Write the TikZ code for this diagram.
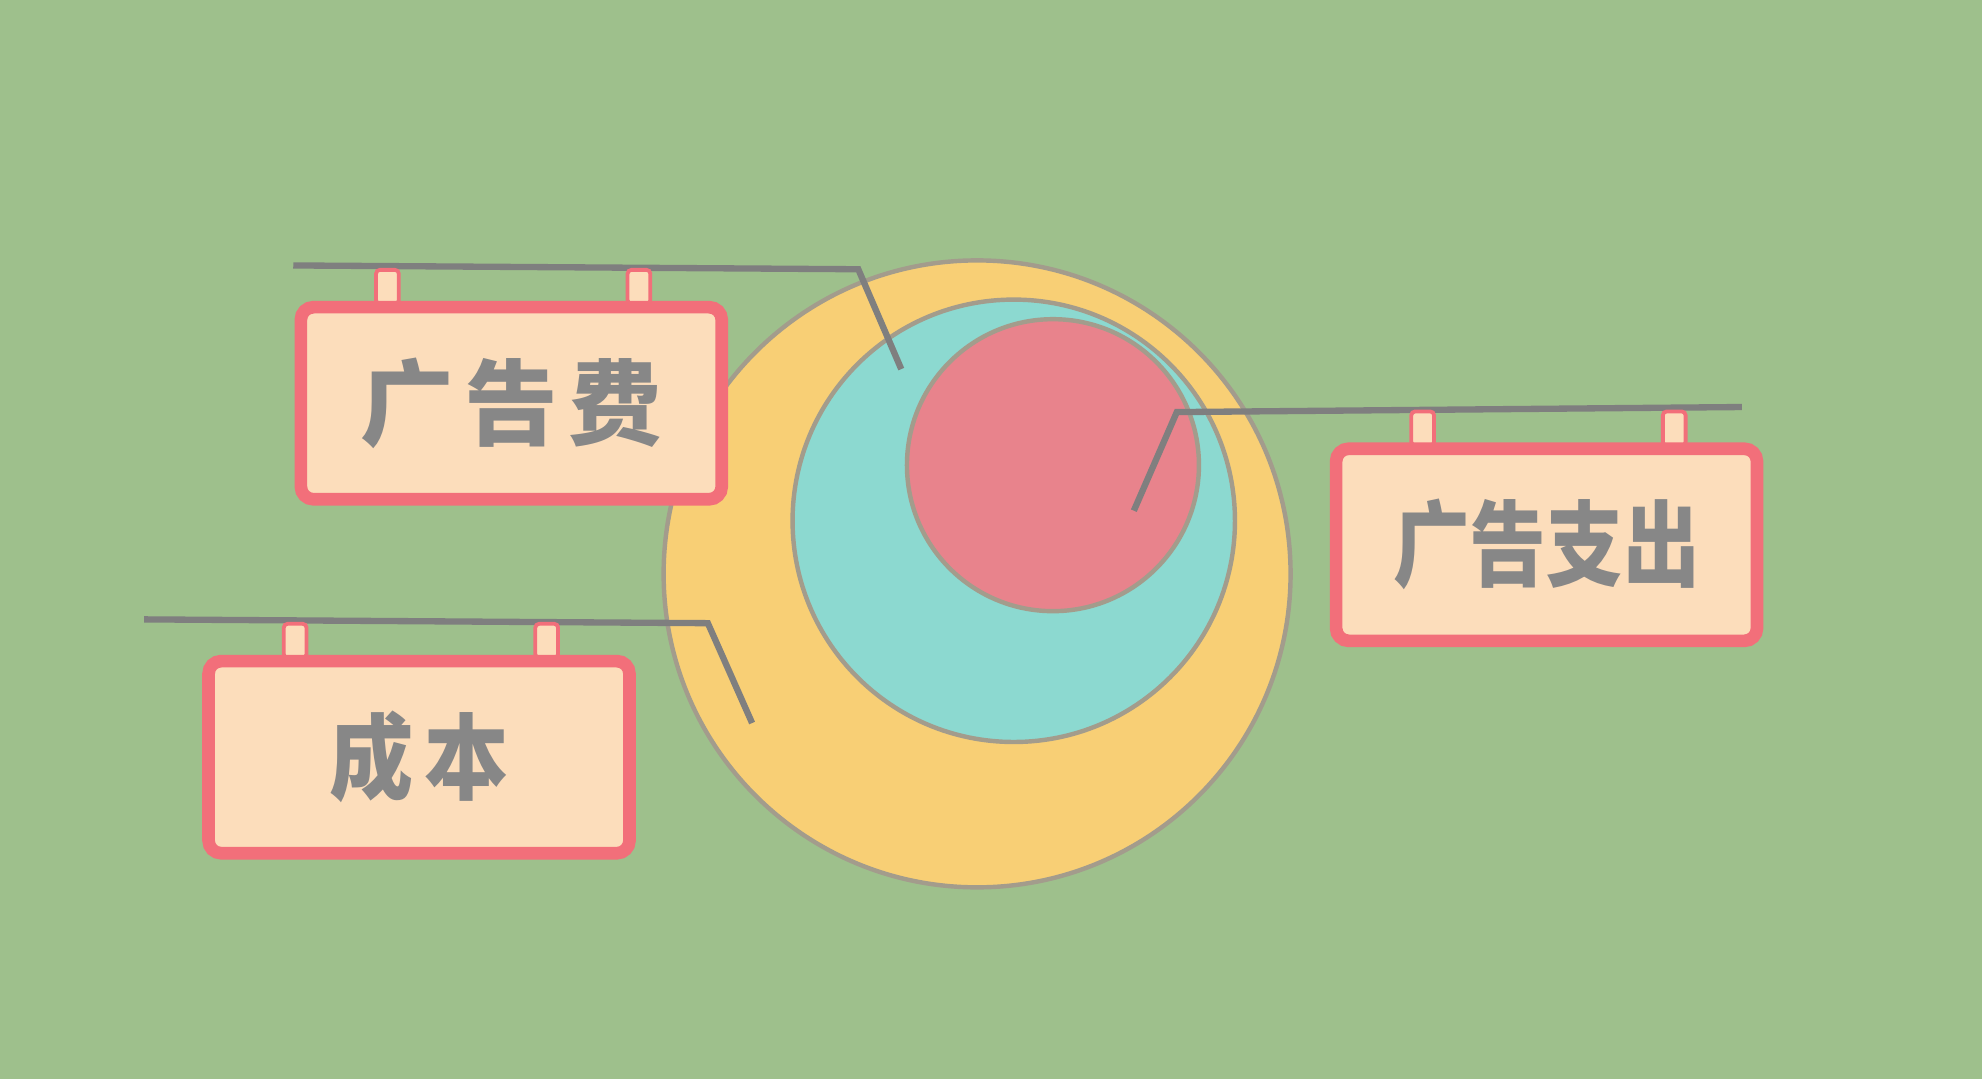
\documentclass[tikz,border=0pt]{standalone}
\usepackage{fontspec}
\usepackage{tikz}
\usetikzlibrary{shadows,positioning}
\newfontfamily\cjk{Noto Sans CJK SC}
\definecolor{bggreen}{HTML}{9EC08C}
\definecolor{ringyellow}{HTML}{F8CF75}
\definecolor{ringcyan}{HTML}{8CD9D0}
\definecolor{ringred}{HTML}{E8838C}
\definecolor{ringline}{HTML}{A39C8C}
\definecolor{signpink}{HTML}{F26F7A}
\definecolor{signcream}{HTML}{FCDDBB}
\definecolor{textgray}{HTML}{878787}
\definecolor{rodgray}{HTML}{7F7F7F}

\begin{document}
\begin{tikzpicture}[x=1pt,y=-1pt,semithick]
\tikzstyle{ring}=[draw=ringline,line width=3.5pt]
\tikzstyle{sign}=[draw=signpink,fill=signcream,line width=10pt,rounded corners=10pt,minimum width=333pt,minimum height=152pt,inner sep=0pt,text=textgray,font=\cjk\bfseries\fontsize{74}{74}\selectfont,drop shadow={shadow xshift=2pt,shadow yshift=-2pt,fill=black!55,opacity=1}]
\tikzstyle{tab}=[draw=signpink,fill=signcream,line width=3pt,rounded corners=3pt,minimum width=18pt,minimum height=27pt,inner sep=0pt,anchor=south]
\tikzstyle{rod}=[draw=rodgray,line width=5pt]
\fill[bggreen] (0,0) rectangle (1568,854);
\useasboundingbox (0,0) rectangle (1568,854);

\node[ring,circle,fill=ringyellow,minimum size=496pt] (outer) at (773,454) {};
\node[ring,circle,fill=ringcyan,minimum size=350pt] (middle) at (802,412) {};
\node[ring,circle,fill=ringred,minimum size=231pt] (inner) at (833,368) {};

\coordinate (feeS) at (232,210);
\coordinate (feeK) at (679,213);
\coordinate (feeE) at (713,292);
\coordinate (costS) at (114,490);
\coordinate (costK) at (560,493);
\coordinate (costE) at (595,572);
\coordinate (spendS) at (1378,322);
\coordinate (spendK) at (931,326);
\coordinate (spendE) at (897,404);
\draw[rod] (feeS) -- (feeK) -- (feeE);
\draw[rod] (costS) -- (costK) -- (costE);
\draw[rod] (spendS) -- (spendK) -- (spendE);

\coordinate (fee) at (404.5,319);
\coordinate (cost) at (331.5,599);
\coordinate (spend) at (1223.5,431);
\node[tab] (feeL) at ([xshift=-98pt,yshift=-4pt]fee |- 0,238) {};
\node[tab] (feeR) at ([xshift=101pt,yshift=-4pt]fee |- 0,238) {};
\node[tab] (costL) at ([xshift=-98pt,yshift=-4pt]cost |- 0,518) {};
\node[tab] (costR) at ([xshift=101pt,yshift=-4pt]cost |- 0,518) {};
\node[tab] (spendL) at ([xshift=-98pt,yshift=-4pt]spend |- 0,350) {};
\node[tab] (spendR) at ([xshift=101pt,yshift=-4pt]spend |- 0,350) {};

\node[sign] (feeSign) at (fee) {广\hspace{8pt}告\hspace{8pt}费};
\node[sign] (costSign) at (cost) {\scalebox{0.9}[1]{成\hspace{10pt}本}};
\node[sign] (spendSign) at (spend) {\scalebox{0.82}[1]{广告支出}};
\end{tikzpicture}
\end{document}
